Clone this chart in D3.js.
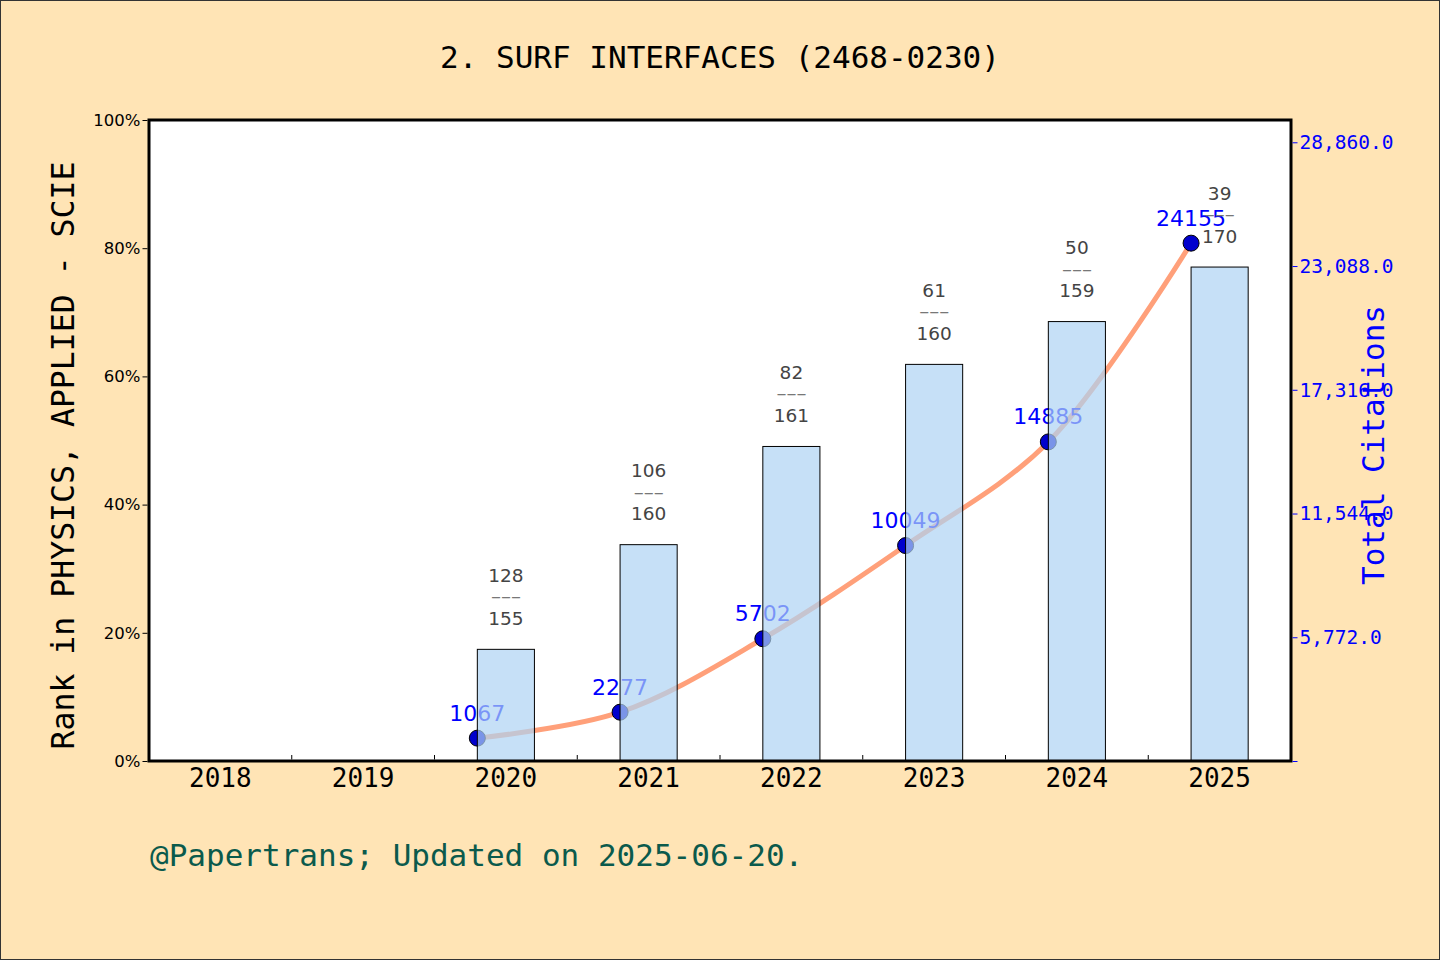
<!DOCTYPE html>
<html>
<head>
<meta charset="utf-8">
<script src="https://cdn.jsdelivr.net/npm/d3@7"></script>
<style>
html,body{margin:0;padding:0;background:#FFE4B5;}
svg{display:block;}
</style>
</head>
<body>
<svg id="chart" width="1440" height="960"></svg>
<script>
// ---- data ----
const years = ['2018','2019','2020','2021','2022','2023','2024','2025'];
const rankPos = [null, null, 128, 106, 82, 61, 50, 39];
const rankTotal = [null, null, 155, 160, 161, 160, 159, 170];
const citations = [null, null, 1067, 2277, 5702, 10049, 14885, 24155];
const leftTicks = [0, 20, 40, 60, 80, 100];
const rightTicks = [0, 5772, 11544, 17316, 23088, 28860];
const rightMax = 29900;
const titleText = '2. SURF INTERFACES (2468-0230)';
const leftLabel = 'Rank in PHYSICS, APPLIED - SCIE';
const rightLabel = 'Total Citations';
const footerText = '@Papertrans; Updated on 2025-06-20.';

// ---- layout ----
const svg = d3.select('#chart');
const L = 149, R = 1291, T = 120, B = 761;
const mono = "'DejaVu Sans Mono', 'Liberation Mono', monospace";
const sans = "'DejaVu Sans', Verdana, sans-serif";

svg.append('rect').attr('x',0.5).attr('y',0.5).attr('width',1439).attr('height',959)
  .attr('fill','#FFE4B5').attr('stroke','#333').attr('stroke-width',1);

svg.append('rect').attr('x',L).attr('y',T).attr('width',R-L).attr('height',B-T).attr('fill','#fff');

const x = d3.scaleBand().domain(years).range([L, R]).paddingInner(0).paddingOuter(0);
const yL = d3.scaleLinear().domain([0,100]).range([B, T]);
const yR = d3.scaleLinear().domain([0, rightMax]).range([B, T]);
const barW = x.bandwidth() * 0.4;

const rows = years.map((y,i)=>({year:y, pos:rankPos[i], total:rankTotal[i], cit:citations[i]}));
const valid = rows.filter(d=>d.pos!=null);

// ---- line + points ----
const px = d => x(d.year) + x.bandwidth()/2 - barW/2;
const line = d3.line().x(px).y(d=>yR(d.cit)).curve(d3.curveCatmullRom.alpha(0.5));
svg.append('path').datum(valid).attr('d', line).attr('fill','none')
  .attr('stroke','#FFA07A').attr('stroke-width',5);
svg.selectAll('circle.pt').data(valid).enter().append('circle')
  .attr('cx', px).attr('cy', d=>yR(d.cit)).attr('r',8)
  .attr('fill','#0000CD').attr('stroke','#000').attr('stroke-width',1);
svg.selectAll('text.cit').data(valid).enter().append('text')
  .attr('x', px).attr('y', d=>yR(d.cit)-25)
  .attr('text-anchor','middle').attr('dominant-baseline','central')
  .attr('font-family', sans).attr('font-size',22).attr('fill','#0000FF')
  .text(d=>d.cit);

// ---- bars ----
const pct = d => (1 - d.pos/d.total) * 100;
svg.selectAll('rect.bar').data(valid).enter().append('rect')
  .attr('x', d=>x(d.year)+x.bandwidth()/2-barW/2)
  .attr('y', d=>yL(pct(d)))
  .attr('width', barW)
  .attr('height', d=>B - yL(pct(d)))
  .attr('fill','rgba(174,211,244,0.7)').attr('stroke','#000').attr('stroke-width',1);

// rank labels
const lab = svg.selectAll('g.rl').data(valid).enter().append('g')
  .attr('transform', d=>`translate(${x(d.year)+x.bandwidth()/2},${yL(pct(d))})`);
lab.append('text').attr('y',-74).attr('text-anchor','middle').attr('dominant-baseline','central')
  .attr('font-family',sans).attr('font-size',18.5).attr('fill','#444').text(d=>d.pos);
lab.append('text').attr('y',-53).attr('text-anchor','middle').attr('dominant-baseline','central')
  .attr('font-family',sans).attr('font-size',20).attr('fill','#777').text('\u2013\u2013\u2013');
lab.append('text').attr('y',-31).attr('text-anchor','middle').attr('dominant-baseline','central')
  .attr('font-family',sans).attr('font-size',18.5).attr('fill','#444').text(d=>d.total);

// ---- frame ----
svg.append('rect').attr('x',L).attr('y',T).attr('width',R-L).attr('height',B-T)
  .attr('fill','none').attr('stroke','#000').attr('stroke-width',3);

// ---- left axis ----
const gl = svg.append('g').attr('transform',`translate(${L-1.5},0)`)
  .call(d3.axisLeft(yL).tickValues(leftTicks).tickSize(5).tickPadding(2).tickFormat(d=>d+'%'));
gl.select('.domain').remove();
gl.selectAll('text').attr('font-family',sans).attr('font-size',16.5).attr('fill','#000');
gl.selectAll('line').attr('stroke','#000');

// ---- right axis ----
const gr = svg.append('g').attr('transform',`translate(${R+1.5},0)`)
  .call(d3.axisRight(yR).tickValues(rightTicks).tickSize(5).tickPadding(2)
    .tickFormat(d=> d===0 ? '' : d3.format(',.1f')(d)));
gr.select('.domain').remove();
gr.selectAll('text').attr('font-family',mono).attr('font-size',19.5).attr('fill','#0000FF');
gr.selectAll('line').attr('stroke','#0000FF');

// ---- bottom axis ----
const gb = svg.append('g').attr('transform',`translate(0,${B})`)
  .call(d3.axisBottom(x).tickSize(0).tickPadding(8));
gb.select('.domain').remove();
gb.selectAll('text').attr('font-family',mono).attr('font-size',26).attr('fill','#000');
// inner ticks at band boundaries
svg.selectAll('line.bt').data(years.slice(1)).enter().append('line')
  .attr('x1', d=>x(d)).attr('x2', d=>x(d)).attr('y1', B-1.5).attr('y2', B-6)
  .attr('stroke','#000').attr('stroke-width',1);

// ---- titles ----
svg.append('text').attr('x',720).attr('y',57).attr('text-anchor','middle').attr('dominant-baseline','central')
  .attr('font-family',mono).attr('font-size',31).attr('fill','#000').text(titleText);
svg.append('text').attr('transform',`translate(63,${(T+B)/2+15}) rotate(-90)`)
  .attr('text-anchor','middle').attr('dominant-baseline','central')
  .attr('font-family',mono).attr('font-size',31.5).attr('fill','#000').text(leftLabel);
svg.append('text').attr('transform',`translate(1373,445) rotate(-90)`)
  .attr('text-anchor','middle').attr('dominant-baseline','central')
  .attr('font-family',mono).attr('font-size',31).attr('fill','#0000FF').text(rightLabel);
svg.append('text').attr('x',150).attr('y',855).attr('dominant-baseline','central')
  .attr('font-family',mono).attr('font-size',31).attr('fill','#0B5A4C').text(footerText);
</script>
</body>
</html>
